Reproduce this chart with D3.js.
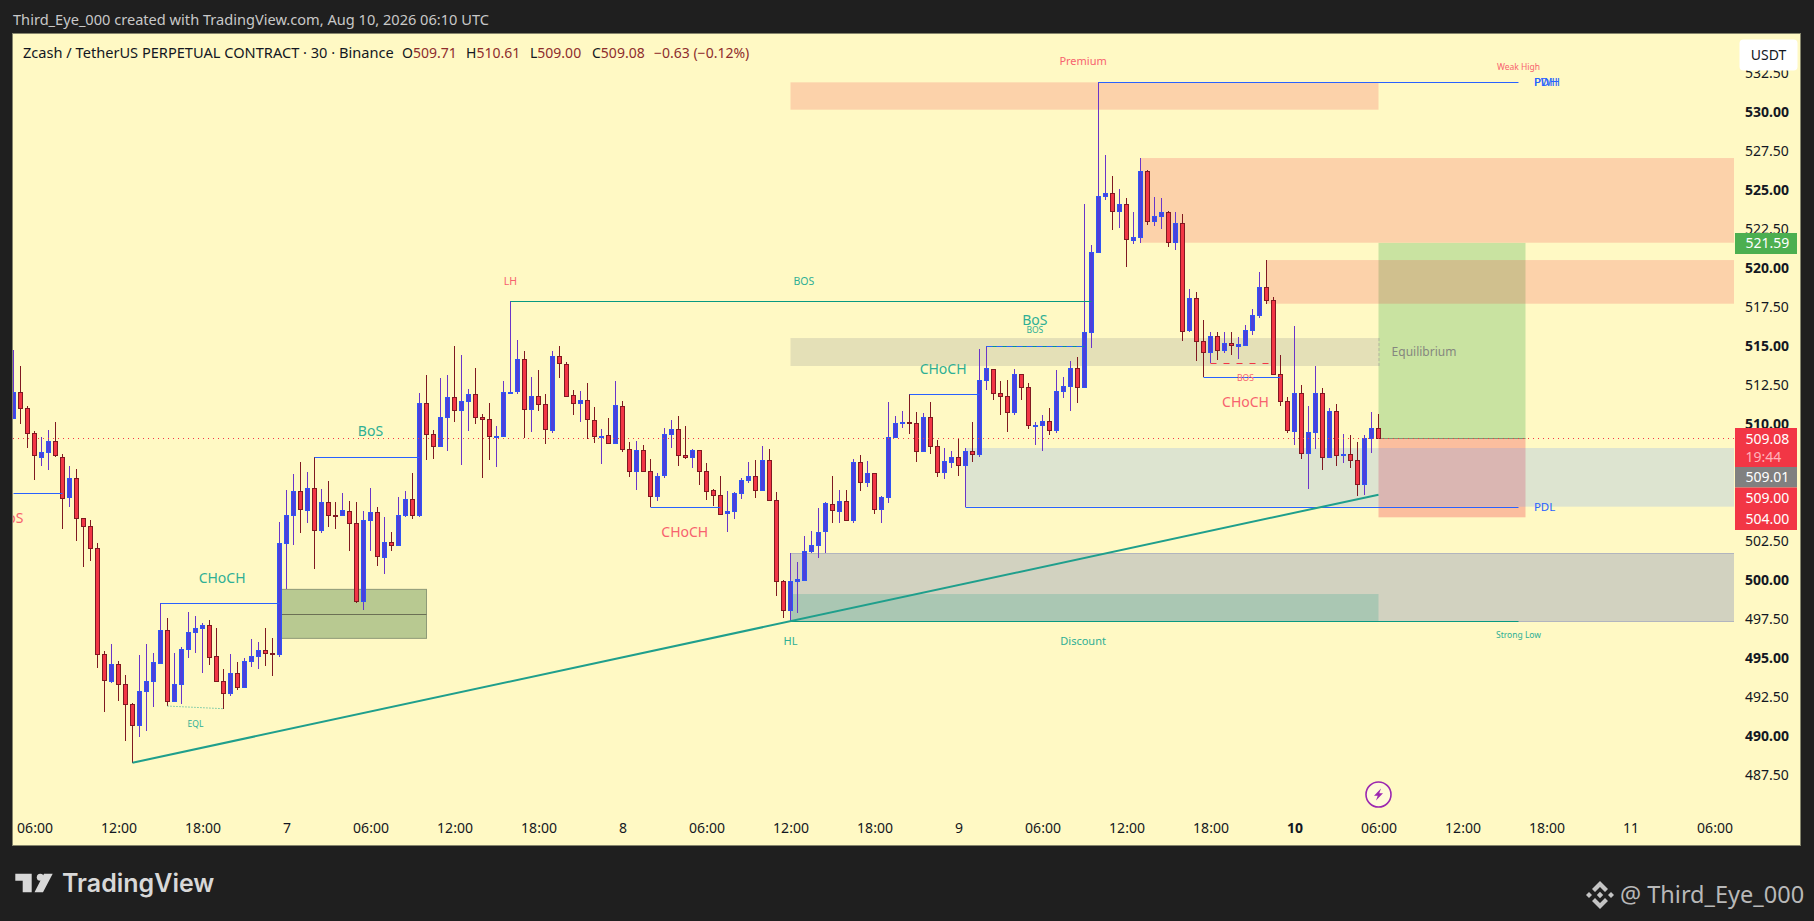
<!DOCTYPE html>
<html>
<head>
<meta charset="utf-8">
<script src="https://cdn.jsdelivr.net/npm/d3@7"></script>
<style>
  html, body { margin: 0; padding: 0; background: #1f1f1f; overflow: hidden; }
  svg { display: block; }
  text { font-family: "Noto Sans", sans-serif; }
  .axis text { fill: #131722; font-size: 14px; }
  .axis path, .axis line { display: none; }
  .axis .strong { font-weight: 700; }
</style>
</head>
<body>
<svg id="chart" width="1814" height="921"></svg>
<script>
// 30 minute candles, first one is Aug 6 04:30, bar 0 is Aug 6 06:00
var firstBar = -3;

var opens = [
  510.37, 512.01, 510.99, 509.38, 507.88, 508.17, 508.87, 507.88, 505.26, 506.50,
  503.94, 503.42, 502.01, 495.22, 493.46, 494.58, 493.29, 492.01, 490.67, 492.85,
  493.46, 494.67, 496.76, 492.20, 493.29, 495.51, 496.63, 496.86, 497.08, 495.08,
  493.49, 492.72, 494.00, 493.08, 494.77, 495.09, 495.47, 495.28, 495.19, 502.33,
  504.13, 505.67, 504.42, 505.86, 503.15, 504.96, 504.14, 504.13, 504.38, 503.61,
  498.61, 503.81, 504.32, 501.43, 502.40, 502.20, 504.13, 505.15, 504.13, 511.31,
  509.32, 508.52, 510.41, 511.69, 510.83, 511.41, 511.88, 510.41, 510.28, 509.19,
  509.17, 512.00, 512.05, 514.13, 510.90, 511.76, 511.24, 509.60, 514.32, 513.85,
  511.82, 511.28, 511.50, 510.22, 509.21, 509.26, 508.74, 511.11, 508.35, 506.95,
  508.29, 506.95, 505.32, 506.67, 509.30, 509.64, 507.97, 507.82, 508.29, 506.95,
  505.73, 505.41, 504.23, 504.36, 505.54, 506.35, 506.63, 505.73, 507.65, 505.09,
  499.90, 498.04, 499.90, 499.98, 501.79, 502.18, 503.08, 504.83, 504.42, 505.03,
  503.83, 507.53, 506.22, 506.82, 504.49, 505.28, 509.10, 510.05, 510.09, 510.02,
  508.20, 510.41, 508.55, 506.86, 507.56, 507.85, 507.31, 508.23, 508.04, 512.78,
  513.49, 511.95, 511.76, 510.73, 513.17, 512.33, 509.88, 509.87, 510.15, 509.58,
  512.11, 512.37, 513.55, 512.31, 515.83, 520.96, 524.60, 524.77, 523.59, 524.06,
  521.78, 521.92, 526.18, 522.95, 523.27, 523.55, 521.60, 522.85, 515.96, 518.04,
  515.28, 514.55, 515.60, 514.68, 515.15, 514.94, 515.04, 515.96, 516.92, 518.74,
  517.91, 513.17, 511.44, 509.54, 511.95, 508.08, 509.45, 511.95, 507.82, 510.79,
  508.00, 508.04, 507.65, 506.11, 509.06, 509.71
];
var highs = [
  514.72, 513.70, 511.14, 509.53, 509.15, 509.60, 510.11, 508.06, 507.29, 507.07,
  503.95, 503.83, 502.33, 495.43, 495.88, 494.77, 493.89, 492.08, 495.17, 495.88,
  495.30, 498.49, 497.54, 495.30, 495.69, 497.91, 497.67, 497.20, 497.42, 496.90,
  494.26, 495.24, 494.72, 494.98, 496.18, 496.01, 496.90, 496.26, 503.70, 505.75,
  506.78, 507.54, 506.90, 507.88, 505.81, 506.33, 504.98, 505.56, 505.04, 504.98,
  504.40, 505.88, 504.66, 504.02, 503.06, 505.30, 505.69, 506.84, 511.95, 513.12,
  509.60, 512.93, 513.12, 514.98, 514.40, 512.22, 513.57, 510.60, 511.31, 509.85,
  512.74, 517.85, 515.36, 514.66, 512.99, 513.44, 511.88, 514.66, 514.98, 513.94,
  512.16, 512.10, 512.61, 511.07, 509.66, 510.36, 512.74, 511.45, 508.83, 508.89,
  508.63, 507.74, 506.82, 509.71, 510.24, 510.49, 509.85, 508.36, 508.29, 507.46,
  505.79, 506.65, 505.69, 505.62, 506.50, 507.54, 507.67, 508.57, 508.38, 505.62,
  499.96, 501.69, 501.13, 502.80, 503.12, 504.60, 504.98, 506.65, 505.75, 505.75,
  507.74, 507.99, 507.61, 506.82, 505.36, 511.39, 510.49, 510.81, 511.88, 510.75,
  510.67, 511.39, 508.95, 508.44, 508.25, 509.02, 508.44, 510.11, 514.79, 514.96,
  513.49, 512.74, 512.78, 513.49, 513.17, 512.59, 510.09, 510.56, 511.01, 513.44,
  512.99, 514.00, 514.26, 524.08, 521.45, 531.88, 527.22, 525.88, 525.04, 524.47,
  523.57, 527.03, 526.26, 524.53, 524.47, 523.63, 523.57, 523.44, 518.63, 518.44,
  516.63, 515.88, 515.88, 515.88, 515.88, 515.56, 516.33, 517.35, 519.72, 520.49,
  518.10, 514.40, 511.69, 516.26, 512.46, 511.14, 513.70, 512.27, 510.99, 511.26,
  509.34, 509.26, 508.83, 509.26, 510.75, 510.61
];
var lows = [
  510.37, 509.98, 508.46, 506.39, 507.29, 507.03, 507.86, 503.25, 504.68, 502.50,
  500.83, 501.22, 494.36, 491.54, 493.40, 492.24, 489.68, 488.27, 489.93, 490.32,
  491.86, 494.64, 491.90, 492.16, 492.03, 494.98, 495.32, 494.04, 494.55, 493.49,
  491.73, 492.56, 492.95, 493.08, 494.42, 494.29, 494.47, 493.83, 495.06, 499.38,
  502.24, 503.01, 503.61, 500.67, 502.98, 503.40, 503.27, 504.08, 501.86, 498.49,
  498.08, 501.86, 500.88, 500.38, 501.86, 502.20, 504.04, 503.89, 504.00, 507.67,
  507.74, 508.52, 508.27, 510.13, 507.35, 509.55, 509.98, 506.54, 507.67, 507.24,
  509.17, 511.99, 511.90, 509.06, 509.47, 510.81, 508.72, 509.42, 512.95, 511.79,
  510.56, 510.13, 509.04, 508.78, 507.42, 508.74, 508.72, 508.20, 506.60, 505.75,
  506.88, 504.64, 505.06, 506.54, 508.46, 507.31, 507.72, 507.18, 506.09, 505.13,
  504.74, 504.19, 503.08, 503.91, 505.17, 506.22, 505.26, 505.73, 505.09, 498.97,
  497.56, 497.35, 497.85, 499.92, 501.73, 501.41, 501.69, 503.65, 503.65, 503.78,
  503.65, 505.70, 505.96, 504.21, 503.65, 504.93, 509.06, 509.74, 509.34, 507.56,
  508.20, 508.06, 506.60, 506.47, 507.18, 506.67, 504.64, 507.54, 507.88, 512.18,
  511.54, 510.56, 509.47, 510.56, 511.52, 509.68, 508.63, 508.27, 509.27, 509.42,
  511.65, 510.81, 511.33, 512.31, 514.87, 520.96, 524.34, 522.42, 522.56, 520.06,
  521.54, 521.58, 522.74, 522.67, 522.48, 521.35, 521.15, 515.32, 515.90, 514.04,
  512.97, 513.87, 514.10, 514.53, 514.40, 514.17, 514.98, 515.69, 516.79, 517.69,
  513.14, 511.15, 509.42, 508.65, 507.76, 505.83, 508.40, 507.05, 507.82, 507.31,
  507.50, 507.18, 505.38, 505.45, 508.14, 509.00
];
var closes = [
  512.03, 510.99, 509.38, 507.97, 508.17, 508.87, 507.97, 505.26, 506.50, 503.94,
  503.42, 502.01, 495.22, 493.55, 494.58, 493.29, 492.01, 490.67, 492.85, 493.49,
  494.70, 496.76, 492.20, 493.29, 495.54, 496.63, 496.88, 497.08, 495.06, 493.49,
  492.72, 494.00, 493.08, 494.77, 495.09, 495.47, 495.26, 495.26, 502.33, 504.13,
  505.67, 504.49, 505.86, 503.17, 504.96, 504.13, 504.13, 504.45, 503.61, 498.61,
  503.81, 504.32, 501.47, 502.40, 502.18, 504.13, 505.15, 504.13, 511.31, 509.32,
  508.52, 510.41, 511.69, 510.83, 511.43, 511.88, 510.41, 510.26, 509.17, 509.21,
  512.01, 512.05, 514.13, 510.90, 511.76, 511.22, 509.64, 514.32, 513.85, 511.79,
  511.28, 511.50, 510.26, 509.19, 509.23, 508.74, 511.18, 508.33, 506.95, 508.29,
  506.95, 505.32, 506.63, 509.32, 509.64, 507.95, 507.82, 508.29, 506.95, 505.70,
  505.38, 504.19, 504.38, 505.54, 506.37, 506.63, 505.73, 507.65, 505.09, 499.87,
  498.04, 499.90, 500.02, 501.82, 502.20, 503.04, 504.90, 504.42, 505.03, 503.83,
  507.53, 506.24, 506.82, 504.49, 505.28, 509.13, 510.02, 510.09, 510.05, 508.20,
  510.41, 508.55, 506.86, 507.59, 507.85, 507.31, 508.23, 508.04, 512.78, 513.55,
  511.95, 511.73, 510.73, 513.17, 512.33, 509.90, 509.92, 510.15, 509.58, 512.07,
  512.40, 513.55, 512.33, 515.86, 520.99, 524.58, 524.77, 523.59, 524.06, 521.82,
  521.95, 526.18, 522.95, 523.29, 523.55, 521.60, 522.85, 515.92, 518.04, 515.26,
  514.55, 515.60, 514.68, 515.15, 515.00, 515.09, 515.99, 516.95, 518.74, 517.91,
  513.17, 511.44, 509.56, 511.95, 508.08, 509.45, 511.95, 507.82, 510.79, 507.97,
  508.04, 507.65, 506.11, 509.06, 509.71, 509.08
];

var priceTicks = [487.5, 490, 492.5, 495, 497.5, 500, 502.5, 505, 507.5, 510, 512.5, 515,
                  517.5, 520, 522.5, 525, 527.5, 530, 532.5];
var timeLabels = ['06:00', '12:00', '18:00', '7', '06:00', '12:00', '18:00', '8', '06:00', '12:00', '18:00',
                  '9', '06:00', '12:00', '18:00', '10', '06:00', '12:00', '18:00', '11', '06:00'];

// [from bar, to bar, top price, bottom price], to bar null means up to the price scale
var supplyZones = [[108, 192, 531.88, 530.13], [158, null, 527.03, 521.60], [176, null, 520.49, 517.69]];
var equilibriumZone = [108, 192, 515.49, 513.70];
var discountZone = [108, 192, 499.08, 497.33];
var strongLowZone = [108, null, 501.69, 497.33];
var paleZone = [133, null, 508.44, 504.68];
var orderBlock = [35, 56, 499.38, 496.24, 497.81];
var longZone = [192, 213, 521.59, 509.08];
var stopZone = [192, 213, 509.08, 504.00];

// [from bar, to bar, price]
var blueLines = [[-3, 4, 505.54], [18, 35, 498.49], [40, 55, 507.88], [88, 98, 504.64], [125, 135, 511.88],
                 [167, 178, 512.97], [133, 212, 504.64], [152, 212, 531.88]];
var tealLines = [[68, 151, 517.85], [136, 150, 514.96], [108, 212, 497.33]];
var trendLine = [[14, 488.27], [192, 505.45]];
var eqlLine = [[19, 491.90], [27, 491.73]];
var dashedBlue = [136, 150, 514.96];
var dashedRed = [168, 177, 513.87];

var lastPrice = 509.08;

var plot = { left: 13, top: 34, right: 1800, bottom: 845, scaleLeft: 1734 };
var redText = '#f7626e', tealText = '#2eaf95', blue = '#2962ff';

var svg = d3.select('#chart');

// bar 0 and bar 192 sit 4 days apart, 7px per bar
var t0 = Date.UTC(2026, 7, 6, 6, 0);
function barTime(i) { return new Date(t0 + i * 30 * 60000); }

var x = d3.scaleUtc().domain([barTime(0), barTime(192)]).range([34.5, 1378.5]);
var y = d3.scaleLinear().domain([530, 495]).range([111.7, 657.7]);
function bx(i) { return i === null ? plot.scaleLeft : x(barTime(i)); }

var candles = opens.map(function(o, k) {
  return { bar: k + firstBar, o: o, h: highs[k], l: lows[k], c: closes[k], up: closes[k] >= o };
});

svg.append('rect').attr('width', 1814).attr('height', 921).attr('fill', '#1f1f1f');

svg.append('defs').append('clipPath').attr('id', 'plotClip').append('rect')
  .attr('x', plot.left).attr('y', plot.top)
  .attr('width', plot.right - plot.left).attr('height', plot.bottom - plot.top);

svg.append('rect')
  .attr('x', plot.left - 0.5).attr('y', plot.top - 0.5)
  .attr('width', plot.right - plot.left + 1).attr('height', plot.bottom - plot.top + 1)
  .attr('fill', '#fff9c4').attr('stroke', '#85856c');

var g = svg.append('g').attr('clip-path', 'url(#plotClip)');

function zone(z, fill, opacity) {
  return g.append('rect')
    .attr('x', bx(z[0])).attr('y', y(z[2]))
    .attr('width', bx(z[1]) - bx(z[0])).attr('height', y(z[3]) - y(z[2]))
    .attr('fill', fill).attr('fill-opacity', opacity);
}

function hline(l, color, width, dash) {
  var yy = Math.round(y(l[2])) + 0.5;
  return g.append('line')
    .attr('x1', bx(l[0])).attr('x2', bx(l[1])).attr('y1', yy).attr('y2', yy)
    .attr('stroke', color).attr('stroke-width', width || 1)
    .attr('stroke-dasharray', dash || null);
}

function label(txt, bar, price, size, color, anchor) {
  return g.append('text')
    .attr('x', x(barTime(bar))).attr('y', y(price)).attr('dy', '0.35em')
    .attr('text-anchor', anchor || 'middle')
    .attr('font-size', size).attr('fill', color).text(txt);
}

// position tool goes first, the zones are painted over it
zone(longZone, '#4caf50', 0.3);
zone(stopZone, '#f23645', 0.3);

supplyZones.forEach(function(z) { zone(z, '#f23645', 0.2); });
zone(equilibriumZone, '#787b86', 0.2);
zone(strongLowZone, '#b2b5be', 0.58);
zone(discountZone, '#089981', 0.2);
zone(paleZone, '#649bfa', 0.22);

hline([108, null, 501.69], '#b2b5be', 1);
hline([108, null, 497.33], '#b2b5be', 1);
g.append('line')
  .attr('x1', bx(192) + 0.5).attr('x2', bx(192) + 0.5)
  .attr('y1', y(equilibriumZone[2])).attr('y2', y(equilibriumZone[3]))
  .attr('stroke', '#b2b5a0').attr('stroke-dasharray', '3,2');

// order block
zone(orderBlock, '#b8c991', 1).attr('stroke', '#8e9a78').attr('stroke-width', 1);
hline([35, 56, orderBlock[4]], '#6b7055', 1);

hline([192, 213, lastPrice], '#7f9a72', 1);

// candles
var wicks = g.append('g').attr('shape-rendering', 'crispEdges');
wicks.selectAll('line').data(candles).enter().append('line')
  .attr('x1', function(d) { return x(barTime(d.bar)); })
  .attr('x2', function(d) { return x(barTime(d.bar)); })
  .attr('y1', function(d) { return y(d.h); })
  .attr('y2', function(d) { return y(d.l); })
  .attr('stroke', function(d) { return d.up ? '#6a35c9' : '#801922'; });

var bodies = g.append('g').attr('shape-rendering', 'crispEdges');
bodies.selectAll('rect').data(candles).enter().append('rect')
  .attr('x', function(d) { return x(barTime(d.bar)) - 2; })
  .attr('width', 4)
  .attr('y', function(d) { return Math.round(y(Math.max(d.o, d.c))) + 0.5; })
  .attr('height', function(d) { return Math.max(1, Math.round(Math.abs(y(d.o) - y(d.c)))); })
  .attr('fill', function(d) { return d.up ? '#4d40da' : '#f23645'; })
  .attr('stroke', function(d) { return d.up ? '#2f55f5' : '#801922'; });

// structure lines
tealLines.forEach(function(l) { hline(l, '#089981', 1); });
blueLines.forEach(function(l) { hline(l, blue, 1); });
hline(dashedBlue, blue, 1, '6,4');
hline(dashedRed, '#f23645', 1, '6,7');

var tline = d3.line()
  .x(function(d) { return bx(d[0]); })
  .y(function(d) { return y(d[1]); });

g.append('path').attr('d', tline(trendLine)).attr('fill', 'none')
  .attr('stroke', '#1f9f8c').attr('stroke-width', 2);
g.append('path').attr('d', tline(eqlLine)).attr('fill', 'none')
  .attr('stroke', '#22ab94').attr('stroke-width', 1).attr('stroke-dasharray', '1,2');

// current price
var lastY = Math.round(y(lastPrice)) + 0.5;
g.append('line').attr('x1', plot.left).attr('x2', plot.scaleLeft).attr('y1', lastY).attr('y2', lastY)
  .attr('stroke', '#f23645').attr('stroke-dasharray', '1,4');

// labels
label('BoS', -3.4, 503.97, 14, redText);
label('CHoCH', 26.8, 500.13, 14, tealText);
label('BoS', 48, 509.55, 14, tealText);
label('EQL', 23, 490.75, 8.5, tealText);
label('LH', 68, 519.10, 10.5, redText);
label('BOS', 109.9, 519.10, 10.5, tealText);
label('CHoCH', 92.9, 503.07, 14, redText);
label('HL', 108, 496.07, 11, tealText);
label('Discount', 149.8, 496.09, 11, tealText);
label('Premium', 149.8, 533.22, 11, redText);
label('CHoCH', 129.8, 513.51, 14, tealText);
label('BoS', 142.9, 516.62, 14, tealText);
label('BOS', 142.9, 516.00, 8.5, tealText);
label('CHoCH', 173, 511.39, 14, redText);
label('BOS', 173, 512.93, 8.5, redText);
label('Weak High', 212, 532.88, 8.5, redText);
label('Strong Low', 212, 496.46, 8.5, tealText);
label('PDH', 214.2, 531.92, 11.5, blue, 'start');
label('PWH', 214.2, 531.92, 11.5, blue, 'start');
label('PDL', 214.2, 504.68, 11.5, blue, 'start');
label('Equilibrium', 198.5, 514.61, 12, '#85877f');

// axes
var priceAxis = svg.append('g').attr('class', 'axis')
  .attr('transform', 'translate(1740,0)')
  .call(d3.axisRight(y).tickValues(priceTicks).tickSize(0).tickPadding(5)
    .tickFormat(function(d) { return d.toFixed(2); }));
priceAxis.selectAll('text').classed('strong', function(d) { return d % 5 === 0; });

var timeAxis = svg.append('g').attr('class', 'axis')
  .attr('transform', 'translate(0,818)')
  .call(d3.axisBottom(x)
    .tickValues(timeLabels.map(function(s, k) { return barTime(k * 12); }))
    .tickSize(0).tickPadding(5)
    .tickFormat(function(d, k) { return timeLabels[k]; }));
timeAxis.selectAll('text').classed('strong', function(d, k) { return timeLabels[k] === '10'; });

// price tags on the scale
function tag(top, h, fill, lines) {
  svg.append('rect').attr('x', 1735).attr('y', top).attr('width', 62).attr('height', h).attr('fill', fill);
  lines.forEach(function(l) {
    svg.append('text').attr('x', 1745.5).attr('y', l[1]).attr('dy', '0.35em')
      .attr('font-size', 14).attr('fill', l[2] || '#ffffff').text(l[0]);
  });
}
tag(233, 21, '#4caf50', [['521.59', 243.5]]);
tag(428, 39, '#f23645', [['509.08', 439], ['19:44', 457, '#ffb3ba']]);
tag(467, 20.5, '#808080', [['509.01', 477.5]]);
tag(487.5, 42.5, '#f23645', [['509.00', 498.5], ['504.00', 519.5]]);

// currency button
svg.append('rect').attr('x', 1739.5).attr('y', 39.5).attr('width', 58).attr('height', 31).attr('rx', 4).attr('fill', '#ffffff');
svg.append('text').attr('x', 1768.5).attr('y', 55).attr('dy', '0.35em').attr('text-anchor', 'middle')
  .attr('font-size', 14).attr('fill', '#131722').text('USDT');

// event marker
var marker = svg.append('g').attr('transform', 'translate(' + bx(192) + ',794.5)');
marker.append('circle').attr('r', 12.5).attr('fill', '#fffbd8').attr('stroke', '#9c27b0').attr('stroke-width', 1.6);
marker.append('path').attr('d', 'M2.5,-6 L-4.5,1.2 H-0.8 L-2.5,6 L4.5,-1.2 H0.8 Z').attr('fill', '#9c27b0');

// top bar and legend
svg.append('text').attr('x', 13).attr('y', 20).attr('dy', '0.35em')
  .attr('font-size', 14.6).attr('fill', '#c8c8c8')
  .text('Third_Eye_000 created with TradingView.com, Aug 10, 2026 06:10 UTC');

var legend = svg.append('text').attr('y', 53.5).attr('dy', '0.35em').attr('font-size', 14).attr('fill', '#131722');
legend.append('tspan').attr('x', 23).attr('font-size', 14.6).text('Zcash / TetherUS PERPETUAL CONTRACT · 30 · Binance');
var legendParts = [['O', '509.71', 402], ['H', '510.61', 466], ['L', '509.00', 530], ['C', '509.08', 592]];
legendParts.forEach(function(p) {
  legend.append('tspan').attr('x', p[2]).text(p[0]);
  legend.append('tspan').attr('fill', '#8e2d2d').text(p[1]);
});
legend.append('tspan').attr('x', 654).attr('fill', '#8e2d2d').text('−0.63 (−0.12%)');

// footer
var logo = svg.append('g').attr('fill', '#d8d8d8');
logo.append('path').attr('d', 'M15.3,873.7 H31.7 V892.3 H22.7 V880.7 H15.3 Z M44,873.7 H52.7 L43,892.3 H34.5 Z');
logo.append('circle').attr('cx', 40.3).attr('cy', 877.3).attr('r', 3.5);
svg.append('text').attr('x', 62).attr('y', 883).attr('dy', '0.35em')
  .attr('font-size', 25).attr('font-weight', 600).attr('fill', '#d8d8d8')
  .style('font-family', 'Inter, sans-serif').text('TradingView');

var bnb = svg.append('g').attr('fill', '#c4c4c4').attr('transform', 'translate(1600,895)');
bnb.append('path').attr('d', 'M0,-14 L8,-6 L5,-3 L0,-8 L-5,-3 L-8,-6 Z');
bnb.append('path').attr('d', 'M0,14 L8,6 L5,3 L0,8 L-5,3 L-8,6 Z');
[[-11, 0, 3], [11, 0, 3], [0, 0, 3.2]].forEach(function(d) {
  bnb.append('path').attr('d', d3.line()([[d[0], d[1] - d[2]], [d[0] + d[2], d[1]], [d[0], d[1] + d[2]], [d[0] - d[2], d[1]]]) + 'Z');
});
svg.append('text').attr('x', 1620).attr('y', 895).attr('dy', '0.35em')
  .attr('font-size', 23.5).attr('fill', '#b8b8b8').text('@ Third_Eye_000');
</script>
</body>
</html>
